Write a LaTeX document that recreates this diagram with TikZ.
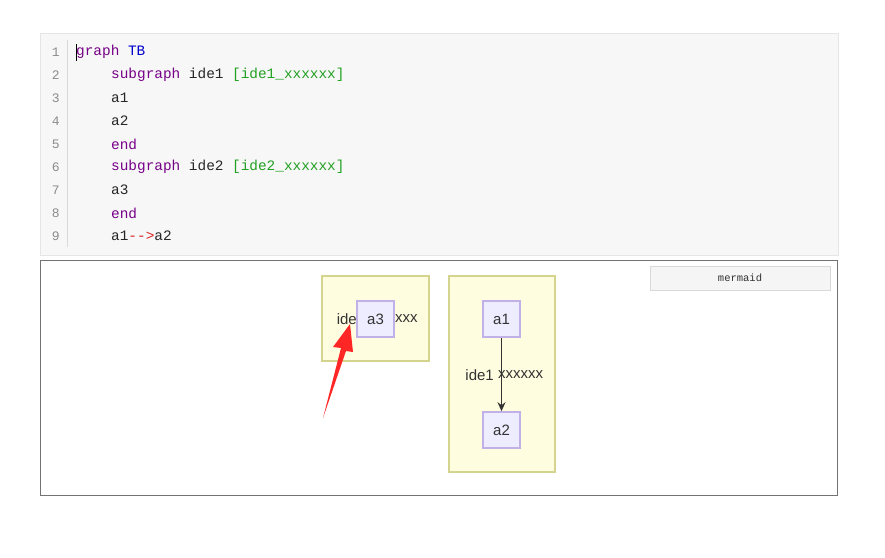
\documentclass[tikz,border=0pt]{standalone}
\usepackage{fontspec}
\usetikzlibrary{arrows.meta}
\setmainfont{Liberation Sans}
\newfontfamily\codefont{Liberation Mono}
\begin{document}
\begin{tikzpicture}[x=1pt,y=-1pt,
  code/.style={anchor=west,inner sep=0pt,font=\codefont\fontsize{14.4}{14}\selectfont,text=black!85},
  lnum/.style={anchor=east,inner sep=0pt,font=\codefont\fontsize{13}{13}\selectfont,text=black!45},
  sub/.style={draw=sbd,fill=yellow!12!white,line width=1.6pt},
  nd/.style={draw=ndb,fill=blue!7!white,line width=1.6pt,minimum width=37pt,minimum height=36pt,inner sep=0pt,font=\fontsize{15}{15}\selectfont,text=black!80},
  lbl/.style={inner sep=0pt,font=\fontsize{15}{15}\selectfont,text=black!80}]
\definecolor{kw}{HTML}{770088}
\definecolor{tb}{HTML}{0000CC}
\definecolor{st}{HTML}{22A022}
\definecolor{op}{HTML}{DD2222}
\definecolor{sbd}{HTML}{D4D48E}
\definecolor{ndb}{HTML}{C2B0E8}
\useasboundingbox (0,0) rectangle (885,557);
\fill[white] (0,0) rectangle (885,557);
% code panel
\draw[fill=black!3,draw=black!10] (40,33) rectangle (838,255);
\draw[black!15] (67,40) -- (67,247);
\foreach \n/\y in {1/52,2/75,3/98,4/121,5/144,6/167,7/190,8/213,9/236}
  \node[lnum] (l\n) at (60,\y) {\n};
\node[code] (c1) at (76,52) {\textcolor{kw}{graph} \textcolor{tb}{TB}};
\draw (76.5,44) -- (76.5,61);
\node[code] (c2) at (111,75) {\textcolor{kw}{subgraph} ide1 \textcolor{st}{[ide1\_xxxxxx]}};
\node[code] (c3) at (111,98) {a1};
\node[code] (c4) at (111,121) {a2};
\node[code] (c5) at (111,144) {\textcolor{kw}{end}};
\node[code] (c6) at (111,167) {\textcolor{kw}{subgraph} ide2 \textcolor{st}{[ide2\_xxxxxx]}};
\node[code] (c7) at (111,190) {a3};
\node[code] (c8) at (111,213) {\textcolor{kw}{end}};
\node[code] (c9) at (111,236) {a1\textcolor{op}{-->}a2};
% diagram panel
\draw[black!55] (40,260) rectangle (837,495);
\draw[fill=black!4,draw=black!15] (650,266) rectangle (830,290);
\node[inner sep=0pt,font=\codefont\fontsize{10.5}{10}\selectfont,text=black!80] (btn) at (740,278) {mermaid};
% subgraphs
\draw[sub] (322,276) rectangle (429,361);
\draw[sub] (449,276) rectangle (555,472);
\node[lbl,anchor=east] (t2a) at (357,319) {ide};
\node[lbl,anchor=west] (t2b) at (395,319) {xxx};
\node[nd] (a3) at (375.5,319) {a3};
\node[nd] (a1) at (501.5,319) {a1};
\node[nd] (a2) at (501.5,430) {a2};
\node[lbl,anchor=east] (t1a) at (494,375) {ide1};
\node[lbl,anchor=west] (t1b) at (498,375) {xxxxxx};
\draw[black!80,line width=1.8pt,-{Stealth[length=9pt,width=8pt]}] (a1) -- (a2);
% red arrow
\fill[red!85!white] (323,418) -- (341,348) -- (333,347) -- (350,324) -- (353,352) -- (346,351) -- cycle;
\end{tikzpicture}
\end{document}
